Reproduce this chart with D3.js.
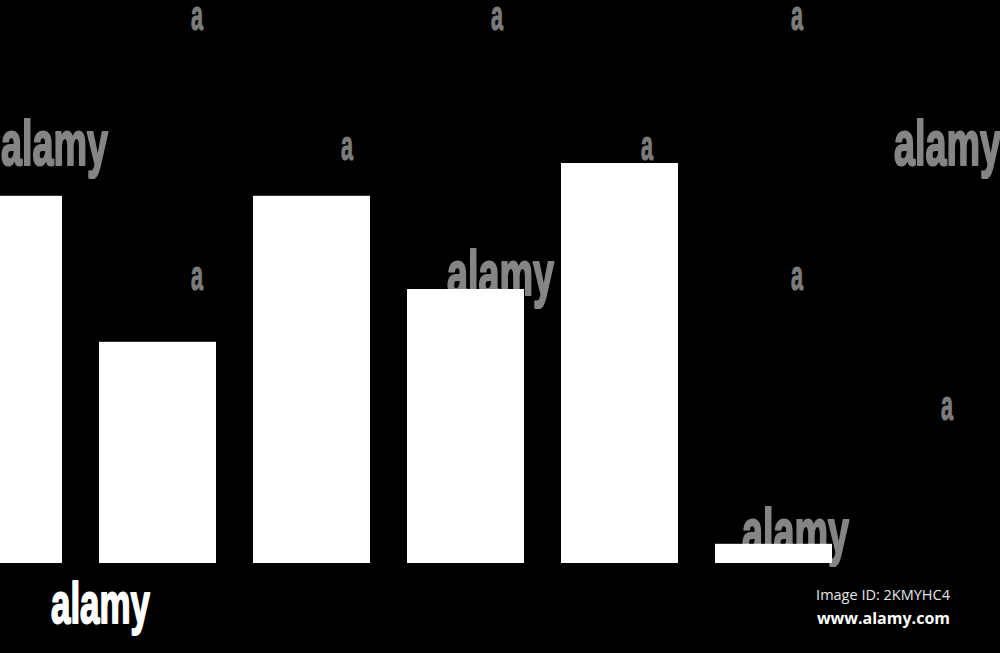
<!DOCTYPE html>
<html>
<head>
<meta charset="utf-8">
<script src="https://cdn.jsdelivr.net/npm/d3@7"></script>
<style>
  html, body { margin: 0; padding: 0; background: #000; }
  svg { display: block; }
</style>
</head>
<body>
<svg id="chart" width="1000" height="653"></svg>
<script>
// Data
const categories = ["A", "B", "C", "D", "E", "F"];
const values = [9.18, 5.53, 9.18, 6.85, 10.0, 0.48];
const yDomain = [0, 10];

// Watermark texts
const markLogo = "alamy";
const markSmall = "a";
const imageIdText = "Image ID: 2KMYHC4";
const siteText = "www.alamy.com";

const svg = d3.select("#chart");
const W = 1000, H = 653;

svg.append("rect").attr("width", W).attr("height", H).attr("fill", "#000");

const logoFont = "'Liberation Sans Narrow', 'Liberation Sans', Arial, sans-serif";

// Background watermarks (drawn under bars)
const wm = svg.append("g");
const bigMarks = [[1, 165], [894, 165], [447, 295], [742, 553]];
bigMarks.forEach(([x, y]) => {
  wm.append("text")
    .attr("x", x).attr("y", y)
    .attr("font-family", logoFont)
    .attr("font-weight", "bold")
    .attr("font-size", 63)
    .attr("textLength", 107)
    .attr("lengthAdjust", "spacingAndGlyphs")
    .attr("fill", "#858585")
    .attr("stroke", "#858585")
    .attr("stroke-width", 2.2)
    .attr("stroke-linejoin", "round")
    .text(markLogo);
});
const smallMarks = [[197, 30], [497, 30], [797, 30], [347, 160], [647, 160], [197, 290], [797, 290], [947, 420]];
smallMarks.forEach(([x, y]) => {
  wm.append("text")
    .attr("x", x - 6).attr("y", y)
    .attr("font-family", logoFont)
    .attr("font-weight", "bold")
    .attr("font-size", 43)
    .attr("textLength", 12)
    .attr("lengthAdjust", "spacingAndGlyphs")
    .attr("fill", "#7c7c7c")
    .attr("stroke", "#7c7c7c")
    .attr("stroke-width", 1.2)
    .attr("stroke-linejoin", "round")
    .text(markSmall);
});

// Scales
const x = d3.scaleBand()
  .domain(categories)
  .range([-73.5, 850.5])
  .paddingInner(37 / 154)
  .paddingOuter(18.5 / 154);

const y = d3.scaleLinear().domain(yDomain).range([563, 163]);

svg.append("g")
  .selectAll("rect")
  .data(categories)
  .join("rect")
  .attr("x", d => x(d))
  .attr("width", x.bandwidth())
  .attr("y", (d, i) => y(values[i]))
  .attr("height", (d, i) => y(0) - y(values[i]))
  .attr("fill", "#ffffff");

// Bottom strip texts
svg.append("text")
  .attr("x", 51).attr("y", 623)
  .attr("font-family", logoFont)
  .attr("font-weight", "bold")
  .attr("font-size", 57)
  .attr("textLength", 99)
  .attr("lengthAdjust", "spacingAndGlyphs")
  .attr("fill", "#ffffff")
  .attr("stroke", "#ffffff")
  .attr("stroke-width", 2)
  .attr("stroke-linejoin", "round")
  .text(markLogo);

svg.append("text")
  .attr("x", 950).attr("y", 600)
  .attr("text-anchor", "end")
  .attr("font-family", "'Open Sans', 'Noto Sans', sans-serif")
  .attr("font-size", 14.5)
  .attr("fill", "#e6e6e6")
  .text(imageIdText);

svg.append("text")
  .attr("x", 950).attr("y", 624)
  .attr("text-anchor", "end")
  .attr("font-family", "'Open Sans', 'Noto Sans', sans-serif")
  .attr("font-weight", "bold")
  .attr("font-size", 16)
  .attr("fill", "#ffffff")
  .text(siteText);
</script>
</body>
</html>
